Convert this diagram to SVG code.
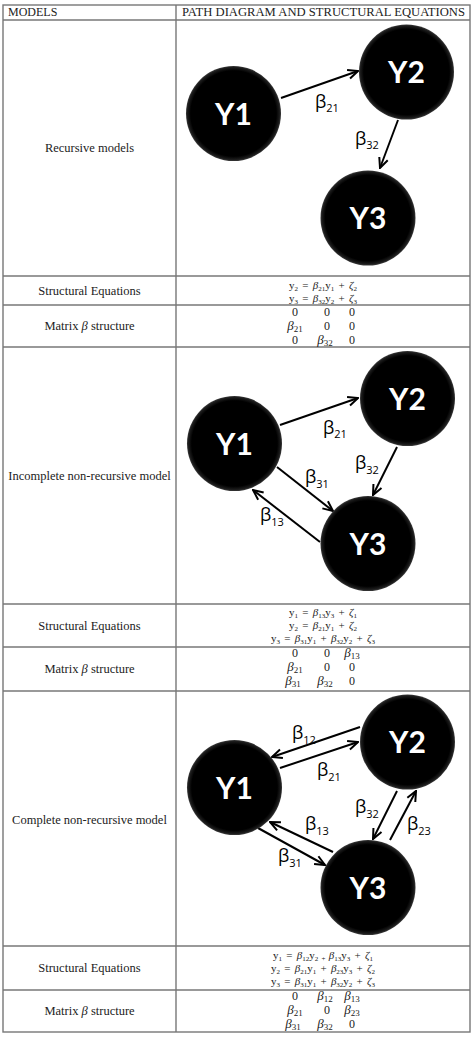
<svg xmlns="http://www.w3.org/2000/svg" width="474" height="1040" viewBox="0 0 474 1040">
<style>
.grid{stroke:#777;stroke-width:1.4;fill:none}
.hd{font-family:"Liberation Serif",serif;font-size:12px;fill:#222}
.lc{font-family:"Liberation Serif",serif;font-size:12.5px;fill:#222;text-anchor:middle}
.eq{font-family:"Liberation Serif",serif;font-size:11px;fill:#222;text-anchor:middle;word-spacing:1.5px}
.mx{font-family:"Liberation Serif",serif;font-size:12px;fill:#222;text-anchor:middle}
.i{font-style:italic}
.bm{font-style:italic;font-size:13px}
.s{font-size:7px;baseline-shift:-1.5px}
.ms{font-size:9px;baseline-shift:-2px}
.node circle{fill:url(#ball)}
.node text{font-family:Lato,"Open Sans",sans-serif;font-weight:700;font-size:30px;fill:#fff;text-anchor:middle}
.edge{stroke:#000;stroke-width:2;fill:none;marker-end:url(#ah)}
.lbl{font-family:"Open Sans","DejaVu Sans",sans-serif;font-size:18px;fill:#000}
.sb{font-size:11px}
</style>
<defs>
<radialGradient id="ball" cx="50%" cy="50%" r="50%">
<stop offset="0" stop-color="#000"/>
<stop offset="0.9" stop-color="#000"/>
<stop offset="0.97" stop-color="#1c1c1c"/>
<stop offset="1" stop-color="#3a3a3a"/>
</radialGradient>
<marker id="ah" viewBox="0 0 12 12" refX="11" refY="6" markerWidth="12" markerHeight="12" markerUnits="userSpaceOnUse" orient="auto">
<path d="M1,1.5 L11,6 L1,10.5" fill="none" stroke="#000" stroke-width="2"/>
</marker>
</defs>
<rect width="474" height="1040" fill="#fff"/>

<g id="table">
<rect class="grid" x="3" y="5" width="467" height="1027"/>
<line class="grid" x1="176" y1="5" x2="176" y2="1032"/>
<line class="grid" x1="3" y1="20" x2="470" y2="20"/>
<line class="grid" x1="3" y1="276" x2="470" y2="276"/>
<line class="grid" x1="3" y1="305" x2="470" y2="305"/>
<line class="grid" x1="3" y1="347" x2="470" y2="347"/>
<line class="grid" x1="3" y1="604" x2="470" y2="604"/>
<line class="grid" x1="3" y1="647" x2="470" y2="647"/>
<line class="grid" x1="3" y1="691" x2="470" y2="691"/>
<line class="grid" x1="3" y1="946" x2="470" y2="946"/>
<line class="grid" x1="3" y1="990" x2="470" y2="990"/>
</g>

<g id="headers">
<text class="hd" x="8" y="16">MODELS</text>
<text class="hd" x="182" y="16" textLength="283" lengthAdjust="spacingAndGlyphs">PATH DIAGRAM AND STRUCTURAL EQUATIONS</text>
</g>

<g id="left-labels">
<text class="lc" x="89.5" y="152">Recursive models</text>
<text class="lc" x="89.5" y="295">Structural Equations</text>
<text class="lc" x="89.5" y="330">Matrix <tspan font-style="italic">β</tspan> structure</text>
<text class="lc" x="89.5" y="480">Incomplete non-recursive model</text>
<text class="lc" x="89.5" y="630">Structural Equations</text>
<text class="lc" x="89.5" y="673">Matrix <tspan font-style="italic">β</tspan> structure</text>
<text class="lc" x="89.5" y="824">Complete non-recursive model</text>
<text class="lc" x="89.5" y="972">Structural Equations</text>
<text class="lc" x="89.5" y="1015">Matrix <tspan font-style="italic">β</tspan> structure</text>
</g>

<g id="equations">
<text class="eq" x="323" y="288.5">y<tspan class="s">2</tspan> = <tspan class="i">β</tspan><tspan class="s">21</tspan>y<tspan class="s">1</tspan> + <tspan class="i">ζ</tspan><tspan class="s">2</tspan></text>
<text class="eq" x="323" y="301.5">y<tspan class="s">3</tspan> = <tspan class="i">β</tspan><tspan class="s">32</tspan>y<tspan class="s">2</tspan> + <tspan class="i">ζ</tspan><tspan class="s">3</tspan></text>

<text class="eq" x="323" y="616">y<tspan class="s">1</tspan> = <tspan class="i">β</tspan><tspan class="s">13</tspan>y<tspan class="s">3</tspan> + <tspan class="i">ζ</tspan><tspan class="s">1</tspan></text>
<text class="eq" x="323" y="629">y<tspan class="s">2</tspan> = <tspan class="i">β</tspan><tspan class="s">21</tspan>y<tspan class="s">1</tspan> + <tspan class="i">ζ</tspan><tspan class="s">2</tspan></text>
<text class="eq" x="323" y="642">y<tspan class="s">3</tspan> = <tspan class="i">β</tspan><tspan class="s">31</tspan>y<tspan class="s">1</tspan> + <tspan class="i">β</tspan><tspan class="s">32</tspan>y<tspan class="s">2</tspan> + <tspan class="i">ζ</tspan><tspan class="s">3</tspan></text>

<text class="eq" x="323" y="958.5">y<tspan class="s">1</tspan> = <tspan class="i">β</tspan><tspan class="s">12</tspan>y<tspan class="s">2 + </tspan><tspan class="i">β</tspan><tspan class="s">13</tspan>y<tspan class="s">3</tspan> + <tspan class="i">ζ</tspan><tspan class="s">1</tspan></text>
<text class="eq" x="323" y="971.5">y<tspan class="s">2</tspan> = <tspan class="i">β</tspan><tspan class="s">21</tspan>y<tspan class="s">1</tspan> + <tspan class="i">β</tspan><tspan class="s">23</tspan>y<tspan class="s">3</tspan> + <tspan class="i">ζ</tspan><tspan class="s">2</tspan></text>
<text class="eq" x="323" y="984.5">y<tspan class="s">3</tspan> = <tspan class="i">β</tspan><tspan class="s">31</tspan>y<tspan class="s">1</tspan> + <tspan class="i">β</tspan><tspan class="s">32</tspan>y<tspan class="s">2</tspan> + <tspan class="i">ζ</tspan><tspan class="s">3</tspan></text>
</g>

<g id="matrices">
<text class="mx" x="295" y="316">0</text><text class="mx" x="327" y="316">0</text><text class="mx" x="352" y="316">0</text>
<text class="mx" x="295" y="330"><tspan class="bm">β</tspan><tspan class="ms">21</tspan></text><text class="mx" x="327" y="330">0</text><text class="mx" x="352" y="330">0</text>
<text class="mx" x="295" y="344">0</text><text class="mx" x="325" y="344"><tspan class="bm">β</tspan><tspan class="ms">32</tspan></text><text class="mx" x="352" y="344">0</text>

<text class="mx" x="295" y="657">0</text><text class="mx" x="327" y="657">0</text><text class="mx" x="352" y="657"><tspan class="bm">β</tspan><tspan class="ms">13</tspan></text>
<text class="mx" x="295" y="671"><tspan class="bm">β</tspan><tspan class="ms">21</tspan></text><text class="mx" x="327" y="671">0</text><text class="mx" x="352" y="671">0</text>
<text class="mx" x="293" y="685"><tspan class="bm">β</tspan><tspan class="ms">31</tspan></text><text class="mx" x="325" y="685"><tspan class="bm">β</tspan><tspan class="ms">32</tspan></text><text class="mx" x="352" y="685">0</text>

<text class="mx" x="295" y="1000">0</text><text class="mx" x="325" y="1000"><tspan class="bm">β</tspan><tspan class="ms">12</tspan></text><text class="mx" x="352" y="1000"><tspan class="bm">β</tspan><tspan class="ms">13</tspan></text>
<text class="mx" x="295" y="1014"><tspan class="bm">β</tspan><tspan class="ms">21</tspan></text><text class="mx" x="327" y="1014">0</text><text class="mx" x="352" y="1014"><tspan class="bm">β</tspan><tspan class="ms">23</tspan></text>
<text class="mx" x="293" y="1028"><tspan class="bm">β</tspan><tspan class="ms">31</tspan></text><text class="mx" x="325" y="1028"><tspan class="bm">β</tspan><tspan class="ms">32</tspan></text><text class="mx" x="352" y="1028">0</text>
</g>

<g id="connectors">
<line class="edge" x1="281" y1="98" x2="358" y2="71"/>
<line class="edge" x1="398" y1="120" x2="380" y2="168"/>

<line class="edge" x1="280" y1="425" x2="358" y2="398"/>
<line class="edge" x1="397" y1="447" x2="373" y2="495"/>
<line class="edge" x1="277" y1="467" x2="333" y2="511"/>
<line class="edge" x1="320" y1="542" x2="253" y2="490"/>

<line class="edge" x1="360" y1="727" x2="272" y2="757"/>
<line class="edge" x1="280" y1="768" x2="358" y2="742"/>
<line class="edge" x1="397" y1="791" x2="373" y2="839"/>
<line class="edge" x1="390" y1="840" x2="416" y2="791"/>
<line class="edge" x1="333" y1="852" x2="270" y2="822"/>
<line class="edge" x1="258" y1="828" x2="325" y2="865"/>
</g>

<g id="edge-labels">
<text class="lbl" x="315" y="108">β<tspan class="sb" dy="4">21</tspan></text>
<text class="lbl" x="355" y="145">β<tspan class="sb" dy="4">32</tspan></text>

<text class="lbl" x="323" y="434">β<tspan class="sb" dy="4">21</tspan></text>
<text class="lbl" x="355" y="469">β<tspan class="sb" dy="5">32</tspan></text>
<text class="lbl" x="305" y="483">β<tspan class="sb" dy="5">31</tspan></text>
<text class="lbl" x="260" y="521">β<tspan class="sb" dy="5">13</tspan></text>

<text class="lbl" x="292" y="739">β<tspan class="sb" dy="5">12</tspan></text>
<text class="lbl" x="317" y="776">β<tspan class="sb" dy="5">21</tspan></text>
<text class="lbl" x="355" y="813">β<tspan class="sb" dy="5">32</tspan></text>
<text class="lbl" x="407" y="830">β<tspan class="sb" dy="5">23</tspan></text>
<text class="lbl" x="305" y="830">β<tspan class="sb" dy="5">13</tspan></text>
<text class="lbl" x="278" y="862">β<tspan class="sb" dy="5">31</tspan></text>
</g>

<g id="d1-y1" class="node"><circle cx="233.5" cy="113.5" r="47.5"/><text x="233.5" y="124.5">Y1</text></g>
<g id="d1-y2" class="node"><circle cx="406.5" cy="72" r="47.5"/><text x="406.5" y="83">Y2</text></g>
<g id="d1-y3" class="node"><circle cx="368" cy="218" r="47.5"/><text x="368" y="229">Y3</text></g>

<g id="d2-y1" class="node"><circle cx="234.5" cy="443.5" r="47.5"/><text x="234.5" y="454.5">Y1</text></g>
<g id="d2-y2" class="node"><circle cx="407.5" cy="398.5" r="47.5"/><text x="407.5" y="409.5">Y2</text></g>
<g id="d2-y3" class="node"><circle cx="368" cy="543.5" r="47.5"/><text x="368" y="554.5">Y3</text></g>

<g id="d3-y1" class="node"><circle cx="234.5" cy="787.5" r="47.5"/><text x="234.5" y="798.5">Y1</text></g>
<g id="d3-y2" class="node"><circle cx="407.5" cy="742" r="47.5"/><text x="407.5" y="753">Y2</text></g>
<g id="d3-y3" class="node"><circle cx="368" cy="887.5" r="47.5"/><text x="368" y="898.5">Y3</text></g>
</svg>
